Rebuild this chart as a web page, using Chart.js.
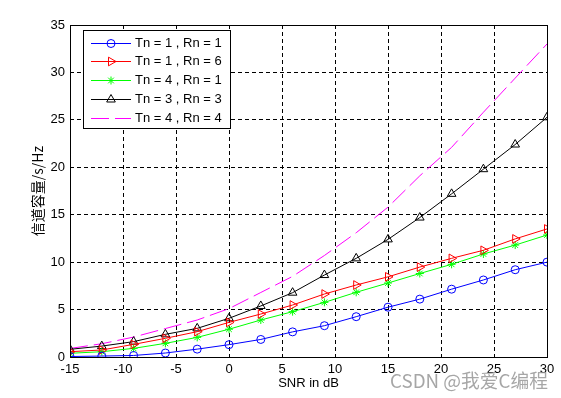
<!DOCTYPE html>
<html>
<head>
<meta charset="utf-8">
<script src="https://cdn.jsdelivr.net/npm/chart.js@4/dist/chart.umd.min.js"></script>
<style>
html,body{margin:0;padding:0;background:#fff;}
#c{display:block;}
</style>
</head>
<body>
<canvas id="c" width="561" height="398"></canvas>
<script>
// ---- data ----
const snrDb = [-15, -12, -9, -6, -3, 0, 3, 6, 9, 12, 15, 18, 21, 24, 27, 30];
const capT1R1 = [0.05, 0.10, 0.16, 0.42, 0.83, 1.30, 1.85, 2.65, 3.30, 4.25, 5.25, 6.10, 7.15, 8.12, 9.20, 10.0];
const capT1R6 = [0.56, 0.74, 1.33, 1.97, 2.67, 3.65, 4.53, 5.48, 6.64, 7.59, 8.45, 9.48, 10.40, 11.25, 12.45, 13.50];
const capT4R1 = [0.39, 0.56, 0.91, 1.44, 2.07, 2.93, 3.90, 4.78, 5.76, 6.82, 7.80, 8.80, 9.77, 10.86, 11.80, 12.86];
const capT3R3 = [0.81, 1.15, 1.62, 2.39, 3.02, 4.08, 5.38, 6.78, 8.64, 10.40, 12.40, 14.70, 17.20, 19.80, 22.40, 25.27];
const capT4R4 = [0.90, 1.40, 2.10, 3.00, 3.90, 5.10, 6.80, 8.50, 10.70, 13.10, 15.80, 19.10, 22.10, 25.80, 29.40, 33.00];
const seriesLabels = ['Tn = 1 , Rn = 1', 'Tn = 1 , Rn = 6', 'Tn = 4 , Rn = 1', 'Tn = 3 , Rn = 3', 'Tn = 4 , Rn = 4'];
const xTicks = [-15, -10, -5, 0, 5, 10, 15, 20, 25, 30];
const yTicks = [0, 5, 10, 15, 20, 25, 30, 35];
const xTitle = 'SNR in dB';
const yTitle = '信道容量/s/Hz';
const watermark = 'CSDN @我爱C编程';

const pts = (ys) => snrDb.map((x, i) => ({x: x, y: ys[i]}));
const FONT = "Arial, 'Liberation Sans', Helvetica, sans-serif";

const styles = [
  {color: '#0000ff', pointStyle: 'circle', rotation: 0, radius: 4, dash: []},
  {color: '#ff0000', pointStyle: 'triangle', rotation: 90, radius: 5, dash: []},
  {color: '#00ff00', pointStyle: 'star', rotation: 0, radius: 4, dash: []},
  {color: '#000000', pointStyle: 'triangle', rotation: 0, radius: 5, dash: []},
  {color: '#ff00ff', pointStyle: false, rotation: 0, radius: 0, dash: [18, 6]}
];
const allData = [capT1R1, capT1R6, capT4R1, capT3R3, capT4R4];

const datasets = allData.map((d, i) => ({
  label: seriesLabels[i],
  data: pts(d),
  borderColor: styles[i].color,
  backgroundColor: 'rgba(0,0,0,0)',
  borderWidth: 1,
  borderDash: styles[i].dash,
  pointStyle: styles[i].pointStyle,
  pointRotation: styles[i].rotation,
  pointRadius: styles[i].radius,
  pointHoverRadius: styles[i].radius,
  pointBorderColor: styles[i].color,
  pointBackgroundColor: 'rgba(0,0,0,0)',
  pointBorderWidth: 1,
  tension: 0,
  fill: false
}));

function drawMarker(ctx, st, x, y) {
  if (!st.pointStyle) return;
  if (Chart.helpers && Chart.helpers.drawPoint) {
    ctx.save();
    ctx.strokeStyle = st.color;
    ctx.fillStyle = 'rgba(0,0,0,0)';
    ctx.lineWidth = 1;
    ctx.setLineDash([]);
    Chart.helpers.drawPoint(ctx, {pointStyle: st.pointStyle, rotation: st.rotation, radius: st.radius, borderWidth: 1}, x, y);
    ctx.restore();
  }
}

const overlay = {
  id: 'overlay',
  beforeDraw(chart) {
    const ctx = chart.ctx;
    ctx.save();
    ctx.fillStyle = '#ffffff';
    ctx.fillRect(0, 0, chart.width, chart.height);
    ctx.restore();
  },
  afterDraw(chart) {
    const ctx = chart.ctx;
    const a = chart.chartArea;
    ctx.save();
    // plot box
    ctx.strokeStyle = '#000';
    ctx.lineWidth = 1;
    ctx.setLineDash([]);
    ctx.strokeRect(Math.round(a.left) + 0.5, Math.round(a.top) + 0.5, Math.round(a.right - a.left), Math.round(a.bottom - a.top));

    // axis titles
    ctx.fillStyle = '#000';
    ctx.font = '13px ' + FONT;
    ctx.textAlign = 'center';
    ctx.textBaseline = 'middle';
    ctx.fillText(xTitle, (a.left + a.right) / 2, 383);
    ctx.save();
    ctx.translate(38, (a.top + a.bottom) / 2);
    ctx.rotate(-Math.PI / 2);
    ctx.font = "14px 'Noto Sans CJK SC', sans-serif";
    ctx.fillText(yTitle, 0, 0);
    ctx.restore();

    // legend
    const lx = 83, ly = 30, lw = 147, lh = 98;
    ctx.fillStyle = '#fff';
    ctx.fillRect(lx, ly, lw, lh);
    ctx.strokeStyle = '#000';
    ctx.strokeRect(lx + 0.5, ly + 0.5, lw, lh);
    ctx.font = '13px ' + FONT;
    ctx.textAlign = 'left';
    ctx.textBaseline = 'middle';
    chart.data.datasets.forEach((ds, i) => {
      const st = styles[i];
      const y = Math.round(42.5 + i * 18.8) + 0.5;
      ctx.save();
      ctx.strokeStyle = st.color;
      ctx.lineWidth = 1;
      ctx.setLineDash(st.dash);
      ctx.beginPath();
      ctx.moveTo(91, y);
      ctx.lineTo(131, y);
      ctx.stroke();
      ctx.restore();
      drawMarker(ctx, st, 111, y);
      ctx.fillStyle = '#000';
      ctx.fillText(ds.label, 135, y);
    });

    // watermark
    ctx.fillStyle = 'rgba(150,150,150,0.85)';
    let fs = 16;
    ctx.font = fs + "px 'Noto Sans CJK SC', sans-serif";
    const w = ctx.measureText(watermark).width;
    fs = fs * 158 / w;
    ctx.font = fs.toFixed(2) + "px 'Noto Sans CJK SC', sans-serif";
    ctx.textAlign = 'left';
    ctx.textBaseline = 'middle';
    ctx.fillText(watermark, 390, 381);
    ctx.restore();
  }
};

new Chart(document.getElementById('c'), {
  type: 'line',
  data: {datasets: datasets},
  options: {
    responsive: false,
    animation: false,
    devicePixelRatio: 1,
    layout: {padding: {top: 25, right: 14, left: 0, bottom: 0}},
    plugins: {legend: {display: false}, tooltip: {enabled: false}, title: {display: false}},
    scales: {
      x: {
        type: 'linear',
        min: -15, max: 30,
        afterBuildTicks: (s) => { s.ticks = xTicks.map(v => ({value: v})); },
        afterFit: (s) => { s.height = 41; },
        ticks: {color: '#000', font: {family: FONT, size: 13}, padding: 5, maxRotation: 0, autoSkip: false},
        grid: {color: '#000', lineWidth: 1, drawTicks: false},
        border: {display: false, dash: [4, 3]}
      },
      y: {
        type: 'linear',
        min: 0, max: 35,
        afterBuildTicks: (s) => { s.ticks = yTicks.map(v => ({value: v})); },
        afterFit: (s) => { s.width = 70; },
        ticks: {color: '#000', font: {family: FONT, size: 13}, padding: 5, autoSkip: false},
        grid: {color: '#000', lineWidth: 1, drawTicks: false},
        border: {display: false, dash: [4, 3]}
      }
    }
  },
  plugins: [overlay]
});
</script>
</body>
</html>
